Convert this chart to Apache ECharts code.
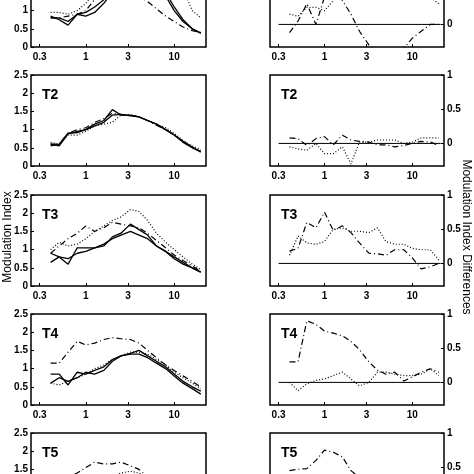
<!DOCTYPE html>
<html><head><meta charset="utf-8">
<script src="https://cdn.jsdelivr.net/npm/echarts@6/dist/echarts.min.js"></script>
<style>html,body{margin:0;padding:0;background:#fff;overflow:hidden;width:474px;height:474px}#wrap{position:relative;width:474px;height:474px;overflow:hidden}#c{position:absolute;left:0;top:-60px;width:474px;height:600px}</style>
</head><body><div id="wrap"><div id="c"></div></div>
<script>
const freqs = [0.4,0.5,0.63,0.8,1,1.26,1.6,2,2.5,3.2,4,5,6.3,8,10,12.6,16,20];
const xTicks = [0.3,1,3,10];
const panelNames = ['T1','T2','T3','T4','T5'];
// Left panels: modulation index
const solidA = [
 [0.85,0.75,0.6,0.9,0.95,1.1,1.3,1.6,2.0,2.4,2.6,2.6,2.4,1.4,1.0,0.7,0.5,0.38],
 [0.55,0.6,0.9,0.92,1.0,1.15,1.25,1.55,1.4,1.4,1.35,1.25,1.15,1.0,0.85,0.65,0.5,0.4],
 [0.9,0.8,0.6,1.05,1.05,1.05,1.1,1.35,1.45,1.7,1.55,1.4,1.1,0.95,0.8,0.65,0.5,0.38],
 [0.85,0.85,0.55,0.9,0.85,0.95,1.05,1.25,1.35,1.42,1.5,1.35,1.2,1.05,0.85,0.65,0.5,0.38],
 [0.8,0.8,0.8,0.9,1.0,1.0,1.05,1.1,1.1,1.15,1.1,1.0,0.9,0.8,0.7,0.6,0.5,0.4]];
const solidB = [
 [0.8,0.8,0.7,0.9,0.85,0.95,1.2,1.5,1.9,2.3,2.6,2.6,2.5,1.5,1.1,0.75,0.5,0.38],
 [0.6,0.55,0.88,0.95,1.0,1.1,1.2,1.4,1.42,1.38,1.35,1.25,1.15,1.0,0.85,0.68,0.52,0.38],
 [0.65,0.8,0.75,0.9,0.95,1.05,1.15,1.3,1.4,1.5,1.4,1.3,1.1,0.95,0.75,0.6,0.5,0.38],
 [0.6,0.75,0.65,0.75,0.9,0.85,0.95,1.2,1.35,1.4,1.4,1.3,1.15,1.0,0.8,0.6,0.45,0.3],
 [0.7,0.75,0.75,0.85,0.95,1.0,1.0,1.05,1.1,1.1,1.05,1.0,0.9,0.8,0.7,0.6,0.5,0.4]];
const dashDot = [
 [0.8,0.8,0.85,0.9,1.0,1.3,1.7,2.2,2.5,2.0,1.4,1.25,1.05,0.85,0.7,0.55,0.45,0.4],
 [0.6,0.6,0.9,1.0,1.05,1.2,1.3,1.45,1.42,1.4,1.35,1.25,1.12,1.0,0.85,0.68,0.52,0.4],
 [0.9,1.1,1.3,1.45,1.65,1.5,1.6,1.75,1.7,1.65,1.6,1.45,1.25,1.05,0.85,0.7,0.55,0.4],
 [1.15,1.15,1.45,1.75,1.65,1.7,1.8,1.85,1.82,1.8,1.7,1.5,1.3,1.1,0.95,0.8,0.65,0.5],
 [1.1,1.2,1.3,1.4,1.55,1.7,1.65,1.65,1.7,1.6,1.5,1.3,1.15,1.0,0.85,0.7,0.55,0.45]];
const dotted = [
 [0.95,0.95,0.9,1.0,1.2,1.5,1.8,2.2,2.6,2.8,2.9,2.9,2.8,2.6,2.2,1.6,1.0,0.8],
 [0.65,0.6,0.85,0.85,0.95,1.1,1.15,1.2,1.4,1.4,1.35,1.25,1.15,1.05,0.9,0.7,0.55,0.45],
 [1.0,1.2,1.1,1.15,1.3,1.5,1.65,1.8,1.9,2.1,2.05,1.8,1.45,1.2,1.0,0.8,0.6,0.45],
 [0.6,0.55,0.65,0.75,0.85,1.0,1.1,1.25,1.35,1.45,1.45,1.4,1.25,1.1,0.9,0.75,0.6,0.45],
 [0.8,0.85,0.9,1.0,1.1,1.2,1.25,1.3,1.4,1.45,1.4,1.3,1.15,1.0,0.85,0.7,0.55,0.45]];
// Right panels: differences
const diffDashDot = [
 [-0.12,0.05,0.3,0.0,0.4,0.5,0.35,0.15,-0.1,-0.3,-0.4,-0.4,-0.4,-0.35,-0.2,-0.1,0.0,0.0],
 [0.08,0.07,-0.03,0.07,0.1,-0.02,0.12,0.05,0.03,0.02,-0.02,-0.02,-0.05,-0.03,0.0,0.03,0.02,-0.03],
 [0.18,0.22,0.6,0.52,0.75,0.48,0.55,0.45,0.3,0.15,0.14,0.12,0.2,0.2,0.08,-0.08,-0.05,0.0],
 [0.3,0.3,0.9,0.85,0.75,0.72,0.68,0.6,0.48,0.3,0.18,0.12,0.15,0.02,0.08,0.15,0.2,0.15],
 [0.45,0.47,0.48,0.6,0.75,0.72,0.65,0.45,0.35,0.25,0.2,0.15,0.1,0.1,0.05,0.05,0.05,0.05]];
const diffDotted = [
 [0.15,0.12,0.25,0.25,0.2,0.35,0.5,0.6,0.8,0.9,1.0,1.1,1.1,1.1,0.9,0.7,0.4,0.3],
 [-0.05,-0.08,-0.1,0.0,-0.15,-0.15,-0.05,-0.3,0.02,0.02,0.05,0.05,0.05,0.0,0.02,0.08,0.08,0.08],
 [0.12,0.4,0.3,0.28,0.32,0.5,0.52,0.47,0.47,0.45,0.52,0.32,0.28,0.28,0.22,0.2,0.2,0.05],
 [0.0,-0.12,-0.02,0.03,0.05,0.1,0.15,0.05,-0.05,0.0,0.15,0.15,0.12,0.1,0.1,0.12,0.2,0.1],
 [0.1,0.12,0.15,0.2,0.25,0.3,0.3,0.25,0.2,0.15,0.1,0.1,0.1,0.05,0.05,0.05,0.05,0.05]];
const zeroLineX = [0.3,21];

const L = Math.log10;
const OFF = 60;
const tops = [-44,75,195,314,433].map(t=>t+OFF), H = 91;
const grid=[], xAxis=[], yAxis=[], series=[], title=[];
const font = 'Liberation Sans';
const styles = {solid:'solid', dd:[6,3,1,3], dot:[1,2]};
function pts(arr){return freqs.map((f,i)=>[L(f),arr[i]]);}
function xa(gi){return {type:'value',gridIndex:gi,min:-0.62,max:1.36,
  axisLine:{show:false,onZero:false},splitLine:{show:false},
  axisTick:{show:true,inside:true,length:3,customValues:xTicks.map(L),lineStyle:{color:'#000'}},
  axisLabel:{customValues:xTicks.map(L),formatter:v=>String(Math.round(Math.pow(10,v)*10)/10),
   color:'#000',fontFamily:font,fontSize:10,fontWeight:'bold',margin:5}};}
for(let r=0;r<5;r++){
  for(let c=0;c<2;c++){
    const gi=grid.length;
    grid.push({left:c?270:31,width:c?174:175,top:tops[r],height:H,show:true,borderColor:'#000',borderWidth:1.5,backgroundColor:'transparent'});
    xAxis.push(xa(gi));
    if(c===0){
      yAxis.push({type:'value',gridIndex:gi,min:0,max:2.5,interval:0.5,splitLine:{show:false},axisLine:{show:false,onZero:false},
        axisTick:{show:true,inside:true,length:3,lineStyle:{color:'#000'}},
        axisLabel:{color:'#000',fontFamily:font,fontSize:10,fontWeight:'bold',margin:3}});
      [['solid',solidA],['solid',solidB],['dd',dashDot],['dot',dotted]].forEach(([s,arr])=>{
        series.push({type:'line',xAxisIndex:gi,yAxisIndex:gi,data:pts(arr[r]),symbol:'none',clip:true,
          lineStyle:{color:'#000',width:s==='solid'?1.3:1.2,type:styles[s]}});
      });
    } else {
      yAxis.push({type:'value',gridIndex:gi,position:'right',min:-0.33,max:1,splitLine:{show:false},axisLine:{show:false,onZero:false},
        axisTick:{show:true,inside:true,length:3,customValues:[0,0.5,1],lineStyle:{color:'#000'}},
        axisLabel:{customValues:[0,0.5,1],color:'#000',fontFamily:font,fontSize:10,fontWeight:'bold',margin:3}});
      series.push({type:'line',xAxisIndex:gi,yAxisIndex:gi,data:zeroLineX.map(f=>[L(f),0]),symbol:'none',lineStyle:{color:'#000',width:1}});
      [['dd',diffDashDot],['dot',diffDotted]].forEach(([s,arr])=>{
        series.push({type:'line',xAxisIndex:gi,yAxisIndex:gi,data:pts(arr[r]),symbol:'none',clip:true,
          lineStyle:{color:'#000',width:1.2,type:styles[s]}});
      });
    }
    title.push({text:panelNames[r],left:(c?270:31)+6,top:tops[r]+8,textStyle:{fontFamily:font,fontSize:14,fontWeight:'bold',color:'#000'}});
  }
}
const chart = echarts.init(document.getElementById('c'),null,{renderer:'canvas'});
chart.setOption({animation:false,backgroundColor:'#fff',title,grid,xAxis,yAxis,series,
  graphic:[
   {type:'text',x:8,y:237+OFF,rotation:Math.PI/2,style:{text:'Modulation Index',fill:'#000',font:'12px Liberation Sans',textAlign:'center',textVerticalAlign:'middle'}},
   {type:'text',x:466,y:237+OFF,rotation:-Math.PI/2,style:{text:'Modulation Index Differences',fill:'#000',font:'12px Liberation Sans',textAlign:'center',textVerticalAlign:'middle'}}
  ]});
</script></body></html>
